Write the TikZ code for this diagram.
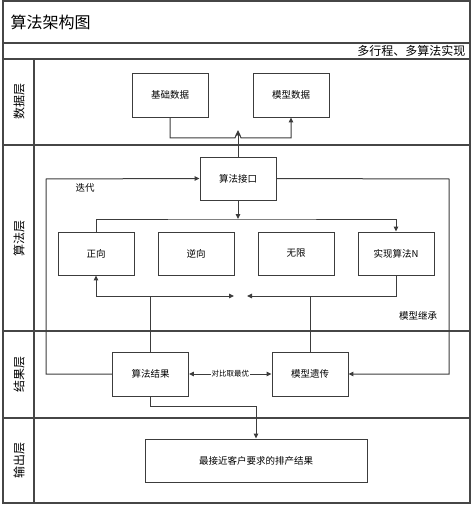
\documentclass[tikz,border=0pt]{standalone}
\usepackage{fontspec}
\newfontfamily\cjk{Noto Sans CJK SC}
\definecolor{frame}{RGB}{70, 70, 70}
\definecolor{edge}{RGB}{60, 60, 60}
\usetikzlibrary{arrows.meta, calc}
\tikzset{
    box/.style={rectangle, draw=edge, line width=0.9pt, minimum width=76pt, minimum height=43pt, inner sep=0pt, align=center, font=\cjk\fontsize{9.5}{11}\selectfont},
    lane/.style={draw=frame, line width=1.6pt},
    lanelabel/.style={rotate=90, font=\cjk\fontsize{12}{14}\selectfont},
    note/.style={font=\cjk\fontsize{9.5}{11}\selectfont},
    arrow/.style={line width=1pt, draw=edge, -{Triangle[length=5pt, width=4.5pt]}},
    biarrow/.style={line width=1pt, draw=edge, {Triangle[length=5pt, width=4.5pt]}-{Triangle[length=5pt, width=4.5pt]}}
}

\begin{document}
\begin{tikzpicture}[x=1pt, y=-1pt]
        \useasboundingbox (0,0) rectangle (474,505);
        % Swimlane frame
        \draw[lane] (3,1) rectangle (470,503);
        \foreach \y in {43, 59, 145, 331, 418}
            \draw[lane] (3,\y) -- (470,\y);
        \draw[lane] (34,59) -- (34,503);
        \node[anchor=west, font=\cjk\fontsize{16}{19}\selectfont] (title) at (7,22) {算法架构图};
        \node[anchor=east, font=\cjk\fontsize{12}{14}\selectfont] (sub) at (469,51) {多行程、多算法实现};

        % Lane labels
        \node[lanelabel] (l1) at (19,102) {数据层};
        \node[lanelabel] (l2) at (19,238) {算法层};
        \node[lanelabel] (l3) at (19,374) {结果层};
        \node[lanelabel] (l4) at (19,460) {输出层};

        % Boxes
        \node[box, minimum height=44pt] (jc) at (170,95) {基础数据};
        \node[box, minimum height=44pt] (mx) at (291,95) {模型数据};
        \node[box] (jk) at (238,178.5) {算法接口};
        \node[box] (zx) at (96,253.5) {正向};
        \node[box] (nx) at (196,253.5) {逆向};
        \node[box] (wx) at (296,253.5) {无限};
        \node[box] (sx) at (396,253.5) {实现算法N};
        \node[box, minimum height=44pt] (jg) at (150.5,374) {算法结果};
        \node[box, minimum height=44pt] (yc) at (310,374) {模型遗传};
        \node[box, minimum width=222pt] (sc) at (256,460.5) {最接近客户要求的排产结果};

        % Helper points
        \coordinate (hop) at (238,138);
        \coordinate (up) at (238,130);
        \coordinate (loopL) at (46,179);
        \coordinate (loopR) at (449,179);
        \coordinate (split) at (238,219);
        \coordinate (joinL) at (234,296);
        \coordinate (joinR) at (247,296);
        \coordinate (down) at (256,406);

        % Data layer
        \draw[arrow] (jc.south) |- ($(hop)+(-3,0)$) .. controls ($(hop)+(-3,-4.5)$) and ($(hop)+(3,-4.5)$) .. ($(hop)+(3,0)$) -| (mx.south);
        \draw[arrow] (jk.north) -- (up);

        % Algorithm layer
        \draw[arrow] (jg.west) -| (loopL) -- (jk.west);
        \draw[arrow] (jk.east) -- (loopR) |- (yc.east);
        \draw[arrow] (jk.south) -- (split);
        \draw[arrow] (zx.north) |- (split) -| (sx.north);
        \draw[arrow] (jg.north) |- (joinL);
        \draw[arrow] (jg.north |- joinL) -| (zx.south);
        \draw[arrow] (sx.south) |- (joinR);
        \draw[line width=1pt, edge] (yc.north) -- (yc.north |- joinR);
        \node[note] (dd) at (85,188) {迭代};
        \node[note] (jc2) at (418,316) {模型继承};

        % Result and output layers
        \draw[biarrow] (jg.east) -- node[fill=white, inner sep=1pt, font=\cjk\fontsize{7.5}{9}\selectfont] (db) {对比取最优} (yc.west);
        \draw[arrow] (jg.south) |- (down) -- (sc.north);
    \end{tikzpicture}
\end{document}
